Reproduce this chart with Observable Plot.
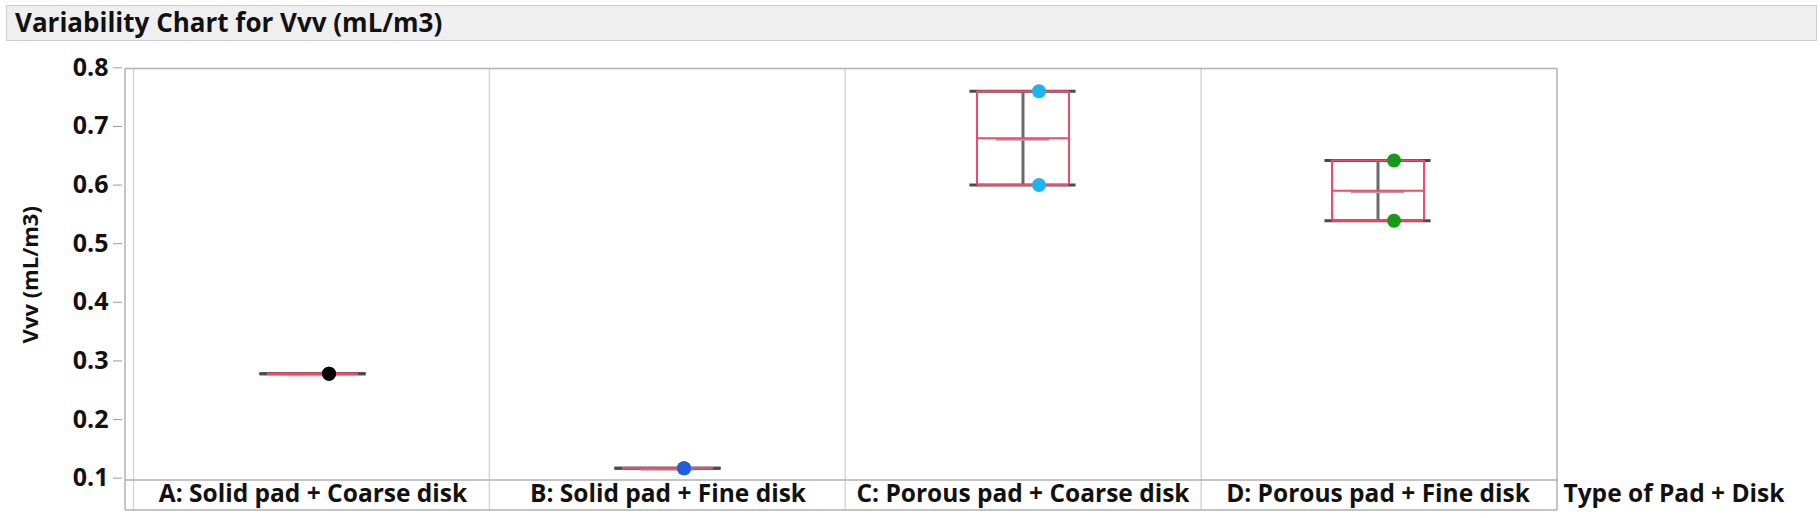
<!DOCTYPE html>
<html><head><meta charset="utf-8">
<script src="https://cdn.jsdelivr.net/npm/d3@7"></script>
<script src="https://cdn.jsdelivr.net/npm/@observablehq/plot@0.6"></script>
<style>
body{margin:0;background:#fff;width:1820px;height:518px;overflow:hidden;font-family:"Open Sans",sans-serif;}
#title{position:absolute;left:6px;top:5px;width:1811px;height:36px;background:#efefef;border:1px solid #cdcdcd;box-sizing:border-box;font-weight:700;font-size:26px;line-height:33px;padding-left:8px;color:#111;}
#chart{position:absolute;left:0;top:45px;}
</style></head><body>
<div id="title">Variability Chart for Vvv (mL/m3)</div>
<div id="chart"></div>
<script>
// ---- data ----
const groups = ["A: Solid pad + Coarse disk", "B: Solid pad + Fine disk", "C: Porous pad + Coarse disk", "D: Porous pad + Fine disk"];
const run1 = [0.278, 0.117, 0.76, 0.642];
const run2 = [0.278, 0.117, 0.60, 0.539];
const dotColors = ["#000000", "#1f5fdc", "#1fb4ef", "#179a17"];
const yTicks = [0.1, 0.2, 0.3, 0.4, 0.5, 0.6, 0.7, 0.8];
const yLabel = "Vvv (mL/m3)";
const xLabel = "Type of Pad + Disk";

// ---- derived tables ----
const points = groups.flatMap((g, i) => [
  {group: g, value: run1[i], color: dotColors[i]},
  {group: g, value: run2[i], color: dotColors[i]}
]);
const stats = groups.map((g, i) => {
  const v = [run1[i], run2[i]];
  return {group: g, min: d3.min(v), max: d3.max(v), median: d3.median(v), mean: d3.mean(v)};
});
const ends = stats.flatMap(s => [{group: s.group, y: s.min}, {group: s.group, y: s.max}]);

// ---- layout ----
const W = 1820, H = 473;
const mL = 133.5, mR = 263, mT = 23.5, mB = 38;
const bw = (W - mL - mR) / groups.length;
const boxW = 92, capW = 107, meanW = 54;
const red = "#f04a66";
const font = {fontFamily: "'Open Sans', sans-serif", fontWeight: 700, fontSize: "25px", color: "#111", background: "transparent"};

const plot = Plot.plot({
  width: W, height: H,
  marginLeft: mL, marginRight: mR, marginTop: mT, marginBottom: mB,
  style: font,
  x: {domain: groups, padding: 0, axis: null},
  y: {domain: [0.096, 0.798], axis: null},
  color: {type: "identity"},
  marks: [
    Plot.axisY({ticks: yTicks, tickSize: 9, tickPadding: 5, dx: -11.5, tickFormat: d3.format(".1f"), label: null, stroke: "#9a9a9a", fill: "#111"}),
    Plot.text([yLabel], {frameAnchor: "left", textAnchor: "middle", lineAnchor: "middle", rotate: -90, dx: -103, fontSize: 22, fontWeight: "bold", fill: "#111"}),
    Plot.text(groups, {x: d => d, frameAnchor: "bottom", dy: 14, lineAnchor: "middle", fontSize: 24.5, fill: "#111"}),
    Plot.text([xLabel], {frameAnchor: "bottom-right", dx: 6, dy: 14, textAnchor: "start", lineAnchor: "middle", fontSize: 24.5, fill: "#111"}),
    // range caps and range line
    Plot.tickY(ends, {x: "group", y: "y", stroke: "#4a4a4a", strokeWidth: 3, inset: (bw - capW) / 2}),
    Plot.ruleX(stats, {x: "group", y1: "min", y2: "max", stroke: "#6a6a6a", strokeWidth: 3}),
    // mean line
    Plot.tickY(stats, {x: "group", y: "mean", stroke: "#a8a8a8", strokeWidth: 2, inset: (bw - meanW) / 2, dy: 1.5}),
    // box (quartiles = min/max for two runs)
    Plot.tickY(ends, {x: "group", y: "y", stroke: red, strokeWidth: 2, inset: (bw - boxW) / 2}),
    Plot.ruleX(stats, {x: "group", y1: "min", y2: "max", stroke: red, strokeWidth: 2, dx: -boxW / 2}),
    Plot.ruleX(stats, {x: "group", y1: "min", y2: "max", stroke: red, strokeWidth: 2, dx: boxW / 2}),
    Plot.tickY(stats, {x: "group", y: "median", stroke: red, strokeWidth: 2, inset: (bw - boxW) / 2}),
    // data points
    Plot.dot(points, {x: "group", y: "value", fill: "color", r: 7, dx: 16})
  ]
});

// frame decoration drawn from the plot's scales
const svg = d3.select(plot);
const xs = plot.scale("x"), ys = plot.scale("y");
const fLeft = xs.range[0], fRight = xs.range[1];
const fTop = ys.range[1], fBottom = ys.range[0];
const rowBottom = fBottom + 30;
const deco = svg.insert("g", ":first-child").attr("fill", "none");
const line = (x1, y1, x2, y2, c, w) => deco.append("line").attr("x1", x1).attr("y1", y1).attr("x2", x2).attr("y2", y2).attr("stroke", c).attr("stroke-width", w);
groups.forEach((d, i) => { if (i > 0) line(fLeft + i * bw, fTop, fLeft + i * bw, rowBottom, "#d6d6d6", 1.5); });
line(fLeft - 8.5, fTop, fRight, fTop, "#b0b0b0", 1.5);
line(fRight, fTop, fRight, rowBottom, "#b0b0b0", 1.5);
line(fLeft - 8.5, fTop, fLeft - 8.5, rowBottom, "#b0b0b0", 1.5);
line(fLeft, fTop, fLeft, rowBottom, "#d0d0d0", 1.2);
line(fLeft - 8.5, fBottom, fRight, fBottom, "#b0b0b0", 1.5);
line(fLeft - 8.5, rowBottom, fRight, rowBottom, "#b0b0b0", 1.5);

document.getElementById("chart").append(plot);
</script>
</body></html>
